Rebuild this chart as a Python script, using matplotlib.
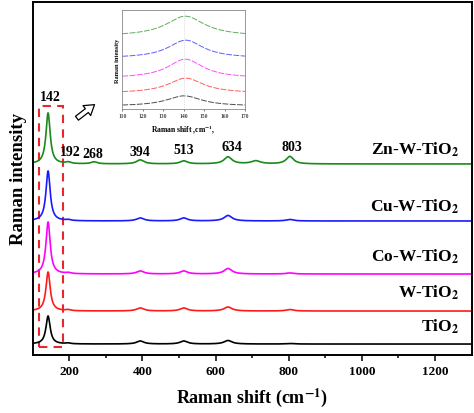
import numpy as np
import matplotlib
matplotlib.use("Agg")
import matplotlib.pyplot as plt
from matplotlib.patches import Rectangle

plt.rcParams['font.family'] = ['Liberation Serif', 'DejaVu Serif']
plt.rcParams['font.weight'] = 'bold'
plt.rcParams['mathtext.fontset'] = 'stix'

# ---- data ----
samples = ["TiO$_\\mathbf{2}$", "W-TiO$_\\mathbf{2}$", "Co-W-TiO$_\\mathbf{2}$",
           "Cu-W-TiO$_\\mathbf{2}$", "Zn-W-TiO$_\\mathbf{2}$"]
colors = ["#000000", "#ff1a1a", "#ff00ff", "#1a1aff", "#1a8a1a"]
offsets = [11, 44, 81, 134, 191]
peak_centers = [142, 197, 268, 394, 513, 634, 710, 803]
peak_hwhm = [7, 8, 10, 12, 12, 13, 15, 12]
peak_heights = [
    [28, 0.8, 0.0, 3.0, 3.0, 3.5, 0.0, 0.5],
    [39, 1.0, 0.0, 3.0, 3.0, 4.0, 0.0, 1.5],
    [52, 1.0, 0.0, 3.0, 3.0, 5.5, 0.0, 1.0],
    [50, 1.0, 0.0, 3.0, 3.0, 5.5, 0.0, 1.5],
    [51, 1.5, 2.0, 4.0, 3.0, 7.0, 3.0, 7.5],
]
label_y = [29, 63, 99, 149, 206]
peak_labels = ["142", "192", "268", "394", "513", "634", "803"]
peak_label_x = [147, 202, 265, 393, 512, 645, 809]
peak_label_y = [258, 203, 201, 203, 205, 208, 208]

# inset data
inset_offsets = [3, 16, 31, 51, 73]
inset_centers = [140.2, 141.0, 140.8, 141.0, 140.8]
inset_heights = [10.3, 15.0, 19.0, 18.0, 20.0]
inset_hwhm = [10.5, 10.5, 10.5, 10.5, 11.5]


def spectrum(x, centers, heights, widths):
    y = np.zeros_like(x)
    for c, h, w in zip(centers, heights, widths):
        y += h / (1 + ((x - c) / w) ** 2)
    return y


fig = plt.figure(figsize=(4.74, 4.14), dpi=100)
ax = fig.add_axes([0.069, 0.140, 0.926, 0.853])
x = np.linspace(100, 1300, 2401)
for name, col, off, hts, ly in zip(samples, colors, offsets, peak_heights, label_y):
    ax.plot(x, off + spectrum(x, peak_centers, hts, peak_hwhm), color=col, lw=1.2)
    ax.text(1265, ly, name, ha='right', va='center', fontsize=12.5, fontweight='bold')

for t, tx, ty in zip(peak_labels, peak_label_x, peak_label_y):
    ax.text(tx, ty, t, ha='center', va='center', fontsize=10, fontweight='bold')

ax.add_patch(Rectangle((118, 8), 64, 241, fill=False, ec='#e8262b', ls=(0, (4, 3)), lw=1.5))
ax.annotate("", xy=(275, 252), xytext=(215, 235),
            arrowprops=dict(arrowstyle="simple,head_width=0.9,head_length=0.7,tail_width=0.35",
                            fc='white', ec='black', lw=0.9))

ax.set_xlim(100, 1300)
ax.set_ylim(0, 353)
ax.set_yticks([])
ax.set_xticks([200, 400, 600, 800, 1000, 1200])
ax.set_xticks(np.arange(300, 1300, 200), minor=True)
ax.tick_params(axis='x', which='major', length=4, width=1.1, labelsize=9.5)
ax.tick_params(axis='x', which='minor', length=2.5, width=1.1)
for lab in ax.get_xticklabels():
    lab.set_fontweight('bold')
for s in ax.spines.values():
    s.set_linewidth(1.4)
ax.set_xlabel("Raman shift (cm$^{\\mathbf{-1}}$)", fontsize=13, fontweight='bold', labelpad=6)
ax.set_ylabel("Raman intensity", fontsize=13.5, fontweight='bold', labelpad=4)

# inset
axin = fig.add_axes([0.258, 0.734, 0.259, 0.239])
xi = np.linspace(110, 170, 400)
for col, off, c, h, w in zip(colors, inset_offsets, inset_centers, inset_heights, inset_hwhm):
    axin.plot(xi, off + spectrum(xi, [c], [h], [w]), color=col, lw=0.7, alpha=0.7,
              ls=(0, (6, 1.5)))
axin.axvline(140, color='#cccccc', lw=0.6, ls=':')
axin.set_xlim(110, 170)
axin.set_ylim(0, 99)
axin.set_yticks([])
axin.set_xticks(np.arange(110, 171, 10))
axin.tick_params(axis='x', labelsize=4, length=1.5, width=0.5, pad=1.5, colors='#444444')
for s in axin.spines.values():
    s.set_linewidth(0.6)
    s.set_color('#888888')
axin.set_xlabel("Raman shift ,cm$^{\\mathbf{-1}}$,", fontsize=5.5, fontweight='bold', labelpad=3)
axin.set_ylabel("Raman intensity", fontsize=4.5, fontweight='bold', labelpad=2)

fig.savefig("out.png", dpi=100)
